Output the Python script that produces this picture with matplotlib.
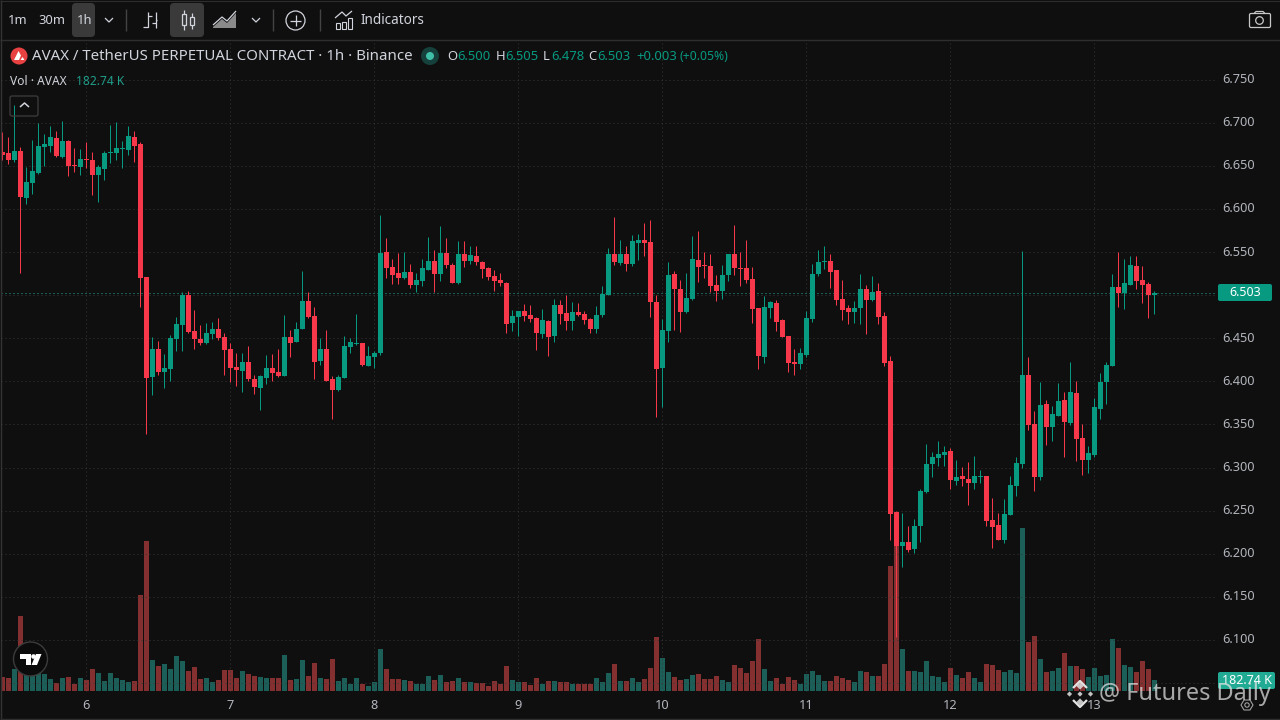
import numpy as np
import matplotlib
matplotlib.use('Agg')
import matplotlib.pyplot as plt
from matplotlib.patches import Circle, FancyBboxPatch, Polygon, Rectangle
from matplotlib.transforms import ScaledTranslation

opens = [6.666, 6.665, 6.657, 6.667, 6.613, 6.630, 6.642, 6.672, 6.673, 6.682, 6.660, 6.679, 6.651, 6.649, 6.658, 6.657,
         6.639, 6.646, 6.665, 6.665, 6.670, 6.668, 6.683, 6.675, 6.521, 6.405, 6.437, 6.411, 6.414, 6.449, 6.465, 6.500,
         6.458, 6.449, 6.444, 6.455, 6.461, 6.451, 6.437, 6.417, 6.412, 6.422, 6.403, 6.392, 6.404, 6.415, 6.411, 6.406,
         6.451, 6.446, 6.461, 6.493, 6.476, 6.424, 6.437, 6.403, 6.390, 6.404, 6.440, 6.443, 6.444, 6.418, 6.428, 6.433,
         6.550, 6.533, 6.526, 6.520, 6.527, 6.512, 6.516, 6.529, 6.540, 6.525, 6.549, 6.535, 6.514, 6.548, 6.540, 6.545,
         6.538, 6.531, 6.522, 6.518, 6.514, 6.468, 6.475, 6.482, 6.477, 6.473, 6.455, 6.470, 6.453, 6.489, 6.479, 6.470,
         6.480, 6.478, 6.472, 6.461, 6.477, 6.500, 6.548, 6.537, 6.548, 6.536, 6.560, 6.564, 6.562, 6.492, 6.415, 6.458,
         6.525, 6.507, 6.480, 6.496, 6.541, 6.535, 6.534, 6.512, 6.505, 6.523, 6.548, 6.531, 6.531, 6.519, 6.485, 6.428,
         6.485, 6.491, 6.471, 6.453, 6.422, 6.420, 6.431, 6.472, 6.525, 6.538, 6.540, 6.529, 6.496, 6.485, 6.480, 6.485,
         6.507, 6.494, 6.505, 6.476, 6.424, 6.248, 6.209, 6.214, 6.205, 6.232, 6.272, 6.304, 6.311, 6.315, 6.319, 6.284,
         6.290, 6.287, 6.282, 6.289, 6.290, 6.239, 6.233, 6.216, 6.245, 6.279, 6.304, 6.407, 6.350, 6.289, 6.374, 6.347,
         6.360, 6.378, 6.352, 6.386, 6.334, 6.309, 6.315, 6.368, 6.399, 6.418, 6.509, 6.502, 6.512, 6.534, 6.518, 6.513,
         6.500]
highs = [6.689, 6.683, 6.721, 6.672, 6.649, 6.680, 6.700, 6.687, 6.696, 6.690, 6.702, 6.680, 6.671, 6.670, 6.678, 6.666,
         6.651, 6.667, 6.697, 6.701, 6.679, 6.696, 6.690, 6.678, 6.521, 6.451, 6.447, 6.432, 6.454, 6.475, 6.504, 6.505,
         6.483, 6.465, 6.468, 6.469, 6.473, 6.456, 6.444, 6.433, 6.433, 6.441, 6.407, 6.407, 6.431, 6.432, 6.437, 6.477,
         6.460, 6.469, 6.528, 6.504, 6.486, 6.450, 6.460, 6.406, 6.407, 6.453, 6.450, 6.478, 6.444, 6.441, 6.435, 6.593,
         6.566, 6.542, 6.549, 6.550, 6.536, 6.526, 6.542, 6.567, 6.552, 6.580, 6.566, 6.537, 6.563, 6.563, 6.557, 6.557,
         6.540, 6.533, 6.529, 6.526, 6.515, 6.483, 6.482, 6.490, 6.489, 6.475, 6.484, 6.471, 6.496, 6.494, 6.500, 6.492,
         6.491, 6.482, 6.473, 6.487, 6.511, 6.555, 6.591, 6.564, 6.557, 6.570, 6.571, 6.584, 6.587, 6.500, 6.472, 6.538,
         6.528, 6.518, 6.526, 6.569, 6.574, 6.550, 6.548, 6.523, 6.535, 6.548, 6.581, 6.550, 6.564, 6.533, 6.485, 6.499,
         6.493, 6.494, 6.472, 6.453, 6.438, 6.439, 6.482, 6.536, 6.552, 6.557, 6.548, 6.529, 6.518, 6.489, 6.493, 6.525,
         6.512, 6.522, 6.514, 6.480, 6.429, 6.250, 6.247, 6.232, 6.240, 6.275, 6.327, 6.318, 6.331, 6.325, 6.323, 6.309,
         6.301, 6.306, 6.313, 6.297, 6.290, 6.265, 6.247, 6.263, 6.290, 6.312, 6.551, 6.428, 6.366, 6.399, 6.378, 6.371,
         6.398, 6.388, 6.422, 6.400, 6.350, 6.325, 6.381, 6.410, 6.422, 6.525, 6.550, 6.542, 6.545, 6.545, 6.534, 6.515,
         6.505]
lows = [6.657, 6.652, 6.654, 6.526, 6.606, 6.617, 6.641, 6.650, 6.666, 6.660, 6.659, 6.638, 6.643, 6.639, 6.647, 6.616,
        6.608, 6.634, 6.653, 6.657, 6.647, 6.663, 6.654, 6.486, 6.339, 6.384, 6.407, 6.392, 6.400, 6.435, 6.435, 6.456,
        6.437, 6.442, 6.443, 6.449, 6.448, 6.407, 6.399, 6.395, 6.388, 6.400, 6.385, 6.367, 6.397, 6.400, 6.405, 6.406,
        6.428, 6.446, 6.461, 6.473, 6.403, 6.419, 6.400, 6.356, 6.389, 6.404, 6.433, 6.442, 6.418, 6.418, 6.415, 6.431,
        6.520, 6.513, 6.513, 6.519, 6.508, 6.504, 6.511, 6.529, 6.504, 6.516, 6.531, 6.514, 6.513, 6.533, 6.536, 6.535,
        6.520, 6.518, 6.505, 6.511, 6.456, 6.458, 6.453, 6.470, 6.469, 6.436, 6.450, 6.429, 6.446, 6.467, 6.460, 6.460,
        6.476, 6.467, 6.456, 6.456, 6.475, 6.500, 6.535, 6.535, 6.528, 6.534, 6.541, 6.545, 6.475, 6.359, 6.370, 6.446,
        6.460, 6.457, 6.479, 6.494, 6.515, 6.520, 6.504, 6.493, 6.496, 6.516, 6.523, 6.511, 6.514, 6.468, 6.414, 6.421,
        6.473, 6.458, 6.451, 6.411, 6.407, 6.414, 6.428, 6.469, 6.522, 6.530, 6.508, 6.489, 6.471, 6.467, 6.468, 6.467,
        6.455, 6.493, 6.467, 6.418, 6.216, 6.103, 6.185, 6.202, 6.201, 6.214, 6.270, 6.289, 6.302, 6.302, 6.275, 6.280,
        6.279, 6.257, 6.275, 6.282, 6.232, 6.207, 6.216, 6.212, 6.245, 6.267, 6.299, 6.344, 6.273, 6.286, 6.326, 6.331,
        6.360, 6.312, 6.349, 6.308, 6.291, 6.294, 6.312, 6.356, 6.374, 6.418, 6.486, 6.484, 6.512, 6.507, 6.491, 6.473,
        6.478]
closes = [6.663, 6.657, 6.667, 6.614, 6.631, 6.644, 6.673, 6.675, 6.683, 6.661, 6.679, 6.650, 6.650, 6.658, 6.657, 6.639,
          6.649, 6.665, 6.666, 6.671, 6.671, 6.685, 6.673, 6.520, 6.404, 6.437, 6.411, 6.415, 6.450, 6.466, 6.500, 6.457,
          6.449, 6.444, 6.456, 6.461, 6.450, 6.436, 6.415, 6.413, 6.422, 6.403, 6.393, 6.406, 6.415, 6.410, 6.406, 6.451,
          6.444, 6.461, 6.493, 6.475, 6.422, 6.437, 6.400, 6.390, 6.405, 6.441, 6.446, 6.444, 6.419, 6.429, 6.433, 6.549,
          6.531, 6.523, 6.520, 6.527, 6.512, 6.518, 6.531, 6.540, 6.525, 6.549, 6.535, 6.514, 6.548, 6.540, 6.547, 6.538,
          6.530, 6.521, 6.516, 6.514, 6.467, 6.476, 6.482, 6.476, 6.472, 6.456, 6.471, 6.451, 6.489, 6.478, 6.470, 6.480,
          6.477, 6.471, 6.461, 6.477, 6.501, 6.548, 6.538, 6.548, 6.536, 6.563, 6.564, 6.560, 6.492, 6.414, 6.460, 6.523,
          6.507, 6.480, 6.497, 6.542, 6.533, 6.534, 6.511, 6.505, 6.523, 6.548, 6.531, 6.530, 6.518, 6.484, 6.429, 6.486,
          6.492, 6.469, 6.451, 6.421, 6.420, 6.433, 6.473, 6.525, 6.538, 6.540, 6.527, 6.494, 6.483, 6.480, 6.485, 6.507,
          6.494, 6.504, 6.475, 6.421, 6.246, 6.209, 6.214, 6.204, 6.232, 6.273, 6.304, 6.312, 6.316, 6.318, 6.286, 6.289,
          6.287, 6.282, 6.290, 6.290, 6.238, 6.231, 6.216, 6.246, 6.280, 6.305, 6.407, 6.349, 6.289, 6.373, 6.347, 6.362,
          6.377, 6.353, 6.388, 6.333, 6.309, 6.317, 6.370, 6.399, 6.419, 6.509, 6.502, 6.514, 6.535, 6.516, 6.512, 6.500,
          6.503]
# thousands of AVAX
volumes = [233, 216, 365, 1246, 266, 266, 299, 283, 199, 133, 216, 233, 116, 216, 183, 365, 299, 166, 299, 216, 183, 150,
           166, 1595, 2492, 515, 415, 449, 365, 581, 498, 332, 399, 199, 216, 150, 183, 349, 349, 216, 332, 283, 249, 233,
           216, 216, 216, 598, 183, 199, 515, 249, 465, 216, 199, 532, 166, 216, 116, 216, 116, 83, 150, 698, 365, 199, 199,
           183, 166, 116, 116, 249, 183, 266, 150, 166, 216, 150, 150, 133, 133, 83, 166, 116, 415, 183, 150, 150, 100, 216,
           116, 166, 166, 150, 150, 116, 116, 116, 116, 216, 150, 299, 449, 166, 166, 216, 150, 199, 382, 897, 548, 316, 233,
           183, 199, 266, 283, 199, 199, 249, 183, 150, 432, 382, 299, 498, 864, 365, 166, 216, 116, 233, 183, 116,
           283, 332, 266, 166, 166, 249, 216, 183, 150, 332, 316, 249, 249, 449, 2077, 2509, 698, 332, 332, 316, 498, 249,
           233, 150, 382, 266, 216, 316, 216, 150, 449, 432, 349, 316, 349, 299, 2708, 814, 914, 532, 316, 332, 382, 631,
           415, 415, 365, 233, 382, 249, 266, 864, 714, 432, 399, 316, 498, 365, 182.74]

price_ticks = [6.05, 6.10, 6.15, 6.20, 6.25, 6.30, 6.35, 6.40, 6.45, 6.50, 6.55, 6.60, 6.65, 6.70, 6.75]
hidden_ticks = [6.05, 6.50]
day_ticks = [14, 38, 62, 86, 110, 134, 158, 182]
day_labels = ['6', '7', '8', '9', '10', '11', '12', '13']

BG = '#0f0f0f'
GREEN = '#089981'
RED = '#f7374a'
VOL_GREEN = '#1c5f59'
VOL_RED = '#853030'
TEXT = '#d1d4dc'
AXIS_TEXT = '#b2b5bc'
GRID = '#363636'
FONT = 'Noto Sans'

plt.rcParams['font.family'] = FONT

W, H = 1280, 720
PANE_L, PANE_R, PANE_T, PANE_B = 1, 1215, 40, 692

fig = plt.figure(figsize=(12.8, 7.2), dpi=100, facecolor=BG)
ax = fig.add_axes([PANE_L / W, 1 - PANE_B / H, (PANE_R - PANE_L) / W, (PANE_B - PANE_T) / H])
ax_vol = ax.twinx()
ax.set_zorder(ax_vol.get_zorder() + 1)
ax.patch.set_visible(False)
ax_vol.set_facecolor(BG)

o, h, l, c, v = map(np.array, (opens, highs, lows, closes, volumes))
x = np.arange(len(o))
up = c >= o
colors = np.where(up, GREEN, RED)
vol_colors = np.where(up, VOL_GREEN, VOL_RED)

# volume pane shares the pixels of the price pane, 16.6K per pixel
ax_vol.bar(x, v, width=5 / 6, color=vol_colors, linewidth=0)
ax_vol.set_ylim(-16.6, 16.6 * (PANE_B - PANE_T - 1))
ax_vol.axis('off')

ax.vlines(x, l, h, colors=colors, linewidth=0.72, zorder=3)
ax.bar(x, np.abs(c - o), bottom=np.minimum(o, c), width=5 / 6, color=colors, linewidth=0, zorder=4)

ax.set_xlim(-0.217, 202.1)
ax.set_ylim(6.70 - (PANE_B - 122.7) / 862, 6.70 - (PANE_T - 122.7) / 862)
ax.set_yticks(price_ticks)
ax.set_yticklabels(['' if p in hidden_ticks else f'{p:.3f}' for p in price_ticks])
ax.set_xticks(day_ticks)
ax.set_xticklabels(day_labels)
ax.yaxis.tick_right()
ax.tick_params(axis='y', length=0, pad=5, labelsize=9.2, labelcolor=AXIS_TEXT)
ax.tick_params(axis='x', length=0, pad=5, labelsize=9.2, labelcolor=AXIS_TEXT)
# price labels sit a little above their grid line
lift = ScaledTranslation(0, 1.5 / 100, fig.dpi_scale_trans)
for t in ax.get_yticklabels():
    t.set_transform(t.get_transform() + lift)
ax.grid(True, color=GRID, linewidth=0.72, linestyle=(0, (1, 3)))
ax.set_axisbelow(True)
for s in ax.spines.values():
    s.set_visible(False)
for s in ax_vol.spines.values():
    s.set_visible(False)

# last price line
ax.axhline(c[-1], color='#22ab94', linewidth=0.72, linestyle=(0, (1, 3)), zorder=2)

# everything below is the terminal chrome, placed in screen pixels
ui = fig.add_axes([0, 0, 1, 1], zorder=10)
ui.set_xlim(0, W)
ui.set_ylim(H, 0)
ui.axis('off')


def line(xs, ys, color='#d1d4dc', lw=0.9):
    ui.plot(xs, ys, color=color, linewidth=lw, solid_capstyle='butt')


def box(x0, y0, w, hgt, color, r=3, **kw):
    ui.add_patch(FancyBboxPatch((x0 + r, y0 + r), w - 2 * r, hgt - 2 * r, boxstyle=f'round,pad={r}',
                                facecolor=color, edgecolor='none', **kw))


def label(px, py, s, size=13, color=TEXT, ha='left', **kw):
    ui.text(px, py + 1, s, fontsize=size * 0.72, color=color, ha=ha, va='center', **kw)


# frame
line([0, W], [39.5, 39.5], '#2e2e2e', 1.0)
line([0.5, 0.5], [0, H], '#333333', 1.0)
line([0, W], [718.5, 718.5], '#2e2e2e', 1.0)
line([0, W], [0.5, 0.5], '#2e2e2e', 0.8)

# toolbar
box(72, 3, 23, 34, '#3a3a3a', 4)
box(170, 3, 34, 34, '#3a3a3a', 4)
label(8, 20, '1m', 13)
label(38, 20, '30m', 13)
label(77, 20, '1h', 13)
for cx in (109, 256):
    line([cx - 4, cx, cx + 4], [18, 22, 18], TEXT)
for sx in (125.5, 272.5, 319.5):
    line([sx, sx], [9, 31], '#434343', 1.0)
# bar style icon
line([148, 148, 143], [12, 27, 27])
line([148, 152], [16, 16])
line([156, 156], [12, 28])
line([152, 156], [23, 23])
line([156, 157], [20, 20])
# candle style icon
for cx, y0, y1, y2, y3 in ((183.5, 10, 14, 25, 30), (191.5, 13, 17, 25, 29)):
    line([cx, cx], [y0, y1])
    line([cx, cx], [y2, y3])
    ui.add_patch(Rectangle((cx - 2, y1), 4, y2 - y1, fill=False, edgecolor=TEXT, linewidth=0.9))
# area style icon
ui.add_patch(Polygon([(213, 27), (222, 19), (227, 23), (236, 13), (236, 28), (213, 28)], facecolor='#8a8a8a',
                     edgecolor='none', hatch='....'))
line([213, 222, 227, 236], [25, 17, 21, 11])
# plus
ui.add_patch(Circle((295.5, 20.5), 9.5, fill=False, edgecolor=TEXT, linewidth=0.9))
line([290, 301], [20.5, 20.5])
line([295.5, 295.5], [15, 26])
# indicators icon
for bx, by in ((335.5, 23), (341.5, 22), (347.5, 18)):
    ui.add_patch(Rectangle((bx, by), 4.5, 28.5 - by, fill=False, edgecolor=TEXT, linewidth=0.8))
line([335, 342, 346, 352], [18, 12, 16, 11])
label(361, 20, 'Indicators', 13.5, '#d1d4dc')
# camera
ui.add_patch(FancyBboxPatch((1251, 15), 18, 11, boxstyle='round,pad=1.5', fill=False, edgecolor='#c8c8c8', linewidth=0.9))
ui.add_patch(Circle((1259.5, 20.5), 3.8, fill=False, edgecolor='#c8c8c8', linewidth=0.9))
line([1254, 1256, 1263, 1265], [13.5, 11.5, 11.5, 13.5], '#c8c8c8')

# symbol line
ui.add_patch(Circle((19, 56), 8.5, facecolor='#e84142', edgecolor='none'))
ui.add_patch(Polygon([(14, 60), (18.5, 51), (21, 55.5), (19, 60)], facecolor='white', edgecolor='none'))
ui.add_patch(Polygon([(20.5, 60), (22.5, 57), (24.5, 60)], facecolor='white', edgecolor='none'))
label(32, 56, 'AVAX / TetherUS PERPETUAL CONTRACT · 1h · Binance', 15, '#d1d4dc')
ui.add_patch(Circle((430, 56), 9, facecolor='#16403b', edgecolor='none'))
ui.add_patch(Circle((430, 56), 4, facecolor='#3fbfa8', edgecolor='none'))
for lx, s in ((447, 'O'), (496, 'H'), (543, 'L'), (588, 'C')):
    label(lx, 56, s, 13, '#d1d4dc')
for lx, s in ((457, f'{o[-1]:.3f}'), (505, f'{h[-1]:.3f}'), (551, f'{l[-1]:.3f}'), (597, f'{c[-1]:.3f}'),
              (636, '+0.003')):
    label(lx, 56, s, 13, GREEN)
label(679, 56, '(+0.05%)', 12.2, GREEN)
label(10, 80.5, 'Vol · AVAX', 12, '#d1d4dc')
label(76, 80.5, '182.74 K', 12, '#1f9e8a')

# collapse button
ui.add_patch(FancyBboxPatch((12, 98), 24, 16, boxstyle='round,pad=2', fill=False, edgecolor='#3e3e3e', linewidth=0.9))
line([20, 24.5, 29], [107, 103, 107], '#d1d4dc', 1.1)

# price tags
box(1218, 284, 54, 17, '#089981', 2)
label(1245, 291.5, f'{c[-1]:.3f}', 12.5, 'white', 'center', fontweight='bold')
box(1218, 672, 57, 17, '#22ab94', 2)
label(1246.5, 679.5, '182.74 K', 12.5, 'white', 'center', fontweight='bold')

# tradingview badge
ui.add_patch(Circle((30.5, 659), 17, facecolor='#0b0b0b', edgecolor='#3c3c3c', linewidth=1.0))
ui.add_patch(Polygon([(20, 654), (31, 654), (31, 665), (26, 665), (26, 659), (20, 659)], facecolor='white', edgecolor='none'))
ui.add_patch(Circle((33.5, 656.5), 2.3, facecolor='white', edgecolor='none'))
ui.add_patch(Polygon([(36, 654), (41.5, 654), (37, 665), (31.5, 665)], facecolor='white', edgecolor='none'))

# watermark
wm = '#e4e4e4'
label(1099, 693, '@ Futures Daily', 23.5, wm, alpha=0.72)
for dx, dy, r in ((1080, 686, 3.6), (1080, 702, 3.6), (1069.5, 694, 2.6), (1090.5, 694, 2.6), (1080, 694, 2.6)):
    ui.add_patch(Polygon([(dx - r, dy), (dx, dy - r), (dx + r, dy), (dx, dy + r)], facecolor=wm, edgecolor='none', alpha=0.85))
line([1073, 1080, 1087], [688, 681, 688], wm, 1.6)
line([1073, 1080, 1087], [700, 707, 700], wm, 1.6)

# settings gear
ui.add_patch(Polygon([(1241, 705), (1244, 700), (1250, 700), (1253, 705), (1250, 710), (1244, 710)], fill=False,
                     edgecolor='#a0a0a0', linewidth=0.8))
ui.add_patch(Circle((1247, 705), 2.2, fill=False, edgecolor='#a0a0a0', linewidth=0.8))

fig.savefig('out.png', dpi=100, facecolor=BG)
